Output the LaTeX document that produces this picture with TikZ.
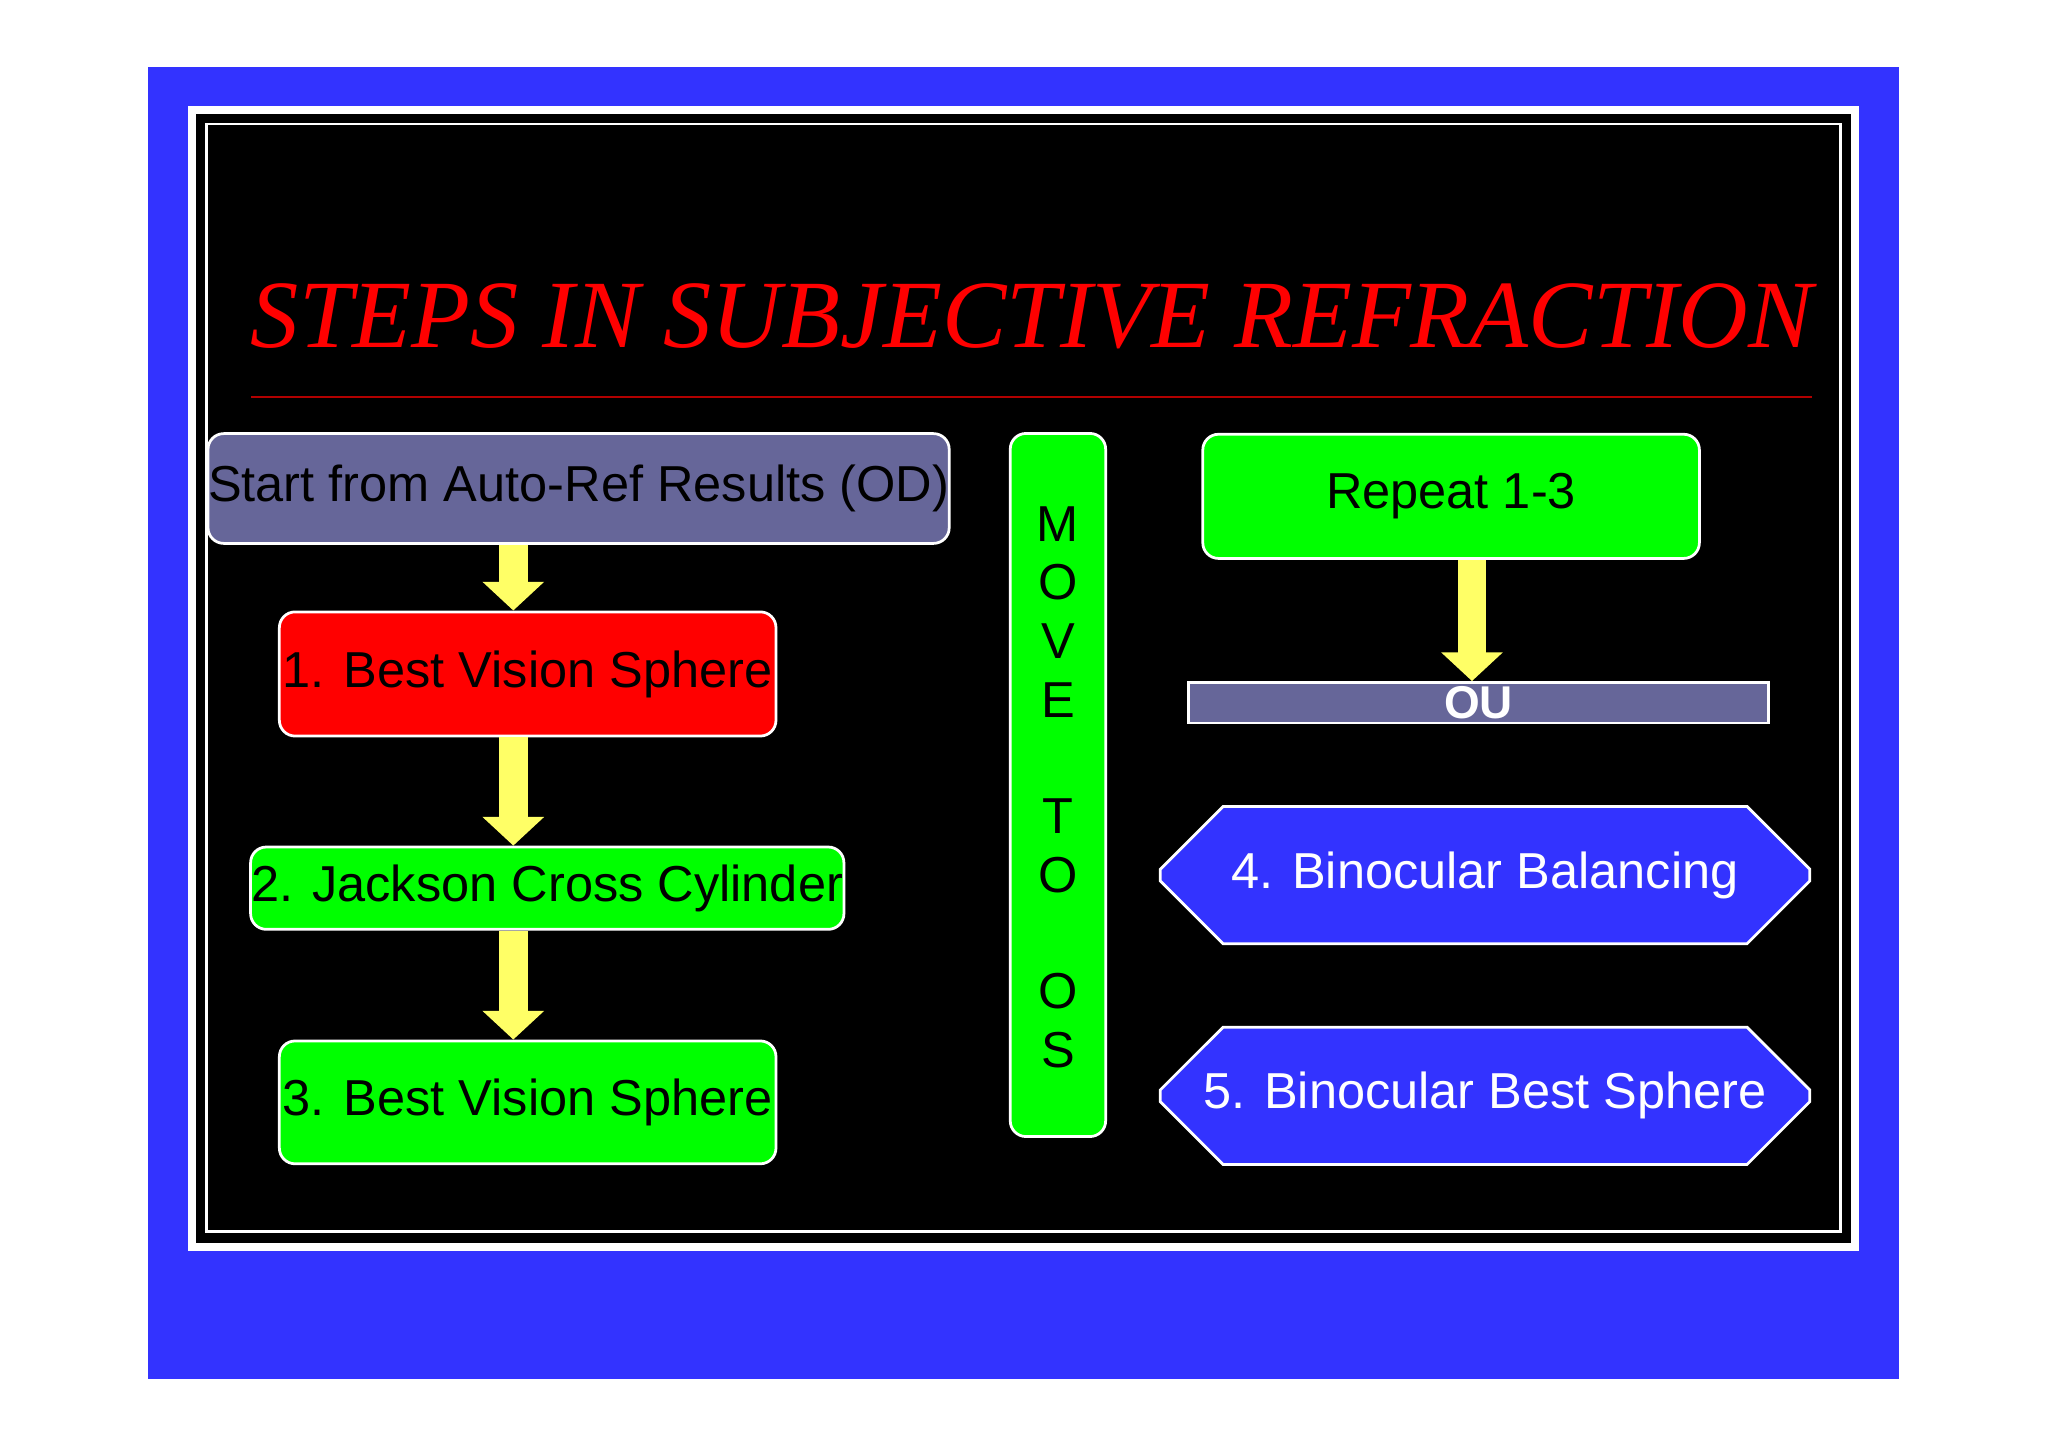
\documentclass[tikz,border=0pt]{standalone}
\usepackage{fontspec}
\setmainfont{Liberation Sans}
\newfontfamily\ttl{Liberation Serif}
\usetikzlibrary{arrows.meta,shapes.misc}
\definecolor{bl}{HTML}{3333FF}
\definecolor{gr}{HTML}{00FF00}
\definecolor{sl}{HTML}{666699}
\definecolor{yl}{HTML}{FFFF66}
\begin{document}
\begin{tikzpicture}[x=0.01cm,y=-0.01cm,
 box/.style={draw=white,line width=0.6pt,rounded corners=0.12cm,inner sep=0pt,font=\fontsize{11pt}{13pt}\selectfont},
 oct/.style={draw=white,line width=0.6pt,chamfered rectangle,chamfered rectangle xsep=0.3cm,chamfered rectangle ysep=0.3cm,inner sep=0pt,fill=bl,text=white,font=\fontsize{11pt}{13pt}\selectfont,minimum width=4.97cm,minimum height=1.05cm},
 arr/.style={yl,line width=0.22cm,-{Triangle[width=0.46cm,length=0.22cm]}}]
\useasboundingbox (0,0) rectangle (1568,1108);
\fill[white] (0,0) rectangle (1568,1108);
\fill[bl] (113,51) rectangle (1454,1056);
\fill[white] (144,81) rectangle (1423,958);
\fill[black] (150,87) rectangle (1417,952);
\draw[white,line width=0.6pt] (158,95) rectangle (1409,943);
\node[text=red,font=\ttl\itshape\fontsize{21pt}{24pt}\selectfont] (title) at (790,242) {STEPS IN SUBJECTIVE REFRACTION};
\draw[red!70!black,line width=0.5pt] (192,304) -- (1387,304);
\node[box,fill=sl,minimum width=5.48cm,minimum height=0.84cm] (s) at (443,374) {Start from Auto-Ref Results (OD)};
\node[box,fill=red,minimum width=3.8cm,minimum height=0.95cm] (b1) at (404,516) {1. Best Vision Sphere};
\node[box,fill=gr,minimum width=4.54cm,minimum height=0.63cm] (b2) at (419,680) {2. Jackson Cross Cylinder};
\node[box,fill=gr,minimum width=3.8cm,minimum height=0.94cm] (b3) at (404,844) {3. Best Vision Sphere};
\coordinate (ax) at (393,0);
\draw[arr] (s.south -| ax) -- (b1.north -| ax);
\draw[arr] (b1.south -| ax) -- (b2.north -| ax);
\draw[arr] (b2.south -| ax) -- (b3.north -| ax);
\node[box,fill=gr,minimum width=0.73cm,minimum height=5.38cm] (mv) at (810,601) {};
\foreach \t/\y in {M/401,O/446,V/491,E/536,T/625,O/670,O/759,S/804}
  \node[font=\fontsize{11pt}{13pt}\selectfont] at (810,\y) {\t};
\node[box,fill=gr,minimum width=3.8cm,minimum height=0.95cm] (r) at (1111,380) {Repeat 1-3};
\node[draw=white,line width=0.6pt,fill=sl,minimum width=4.44cm,minimum height=0.31cm,inner sep=0pt,text=white,font=\bfseries\fontsize{10pt}{11pt}\selectfont] (ou) at (1132,538) {OU};
\coordinate (bx) at (1127,0);
\draw[arr] (r.south -| bx) -- (ou.north -| bx);
\node[oct] (b4) at (1137,670) {4. Binocular Balancing};
\node[oct] (b5) at (1137,839) {5. Binocular Best Sphere};
\end{tikzpicture}
\end{document}
